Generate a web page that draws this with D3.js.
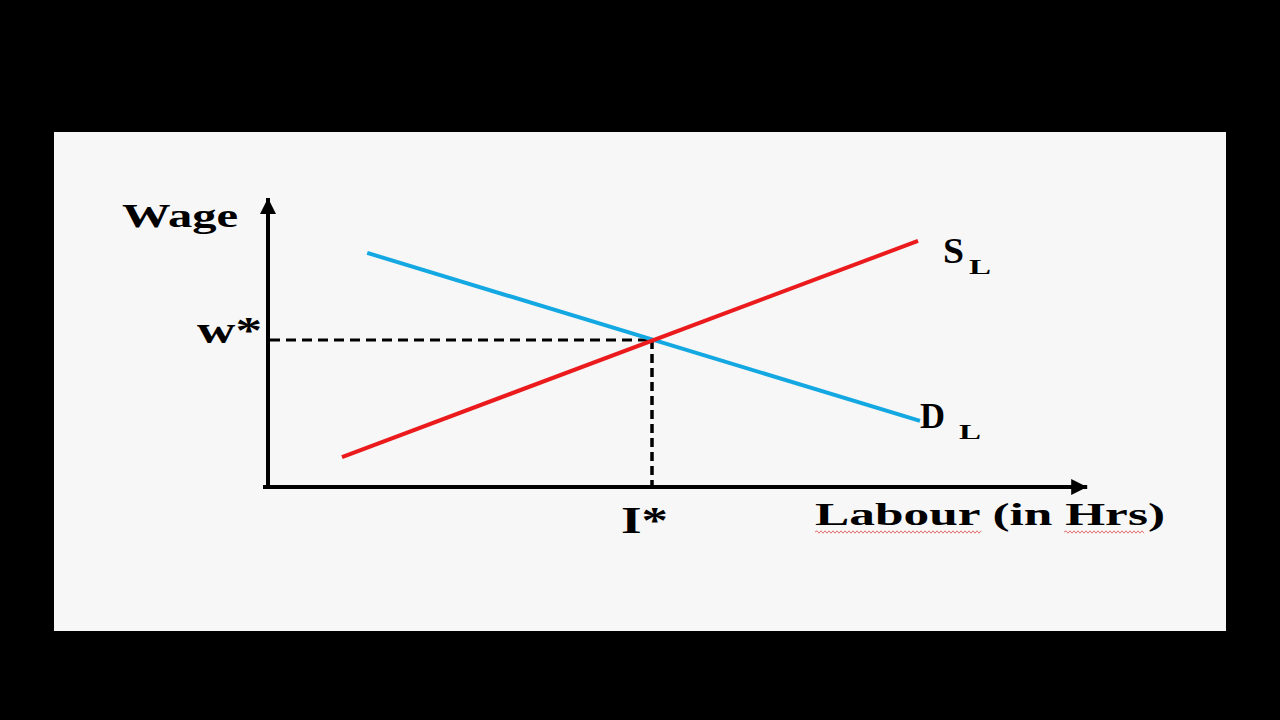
<!DOCTYPE html>
<html>
<head>
<meta charset="utf-8">
<script src="https://cdn.jsdelivr.net/npm/d3@7.9.0/dist/d3.min.js"></script>
<style>
  html, body { margin: 0; padding: 0; background: #000; }
  svg { display: block; }
  text { font-family: "Liberation Serif", "Times New Roman", serif; font-weight: bold; fill: #000; }
</style>
</head>
<body>
<svg id="chart" width="1280" height="720"></svg>
<script>
// curve end points (labour, wage) in chart units
const supplyCurve = [[9.25, 10.7], [81.25, 87.9]];
const demandCurve = [[12.4, 83.6], [81.5, 23.6]];
const equilibrium = { labour: 48, wage: 52.5 };
const axisLabels = { x: "Labour (in Hrs)", y: "Wage", wStar: "w*", lStar: "I*" };
const curveLabels = [
  { main: "S", sub: "L", at: [81.25, 87.9] },
  { main: "D", sub: "L", at: [81.5, 23.6] }
];

const svg = d3.select('#chart');

// slide panel
svg.append('rect')
  .attr('x', 54).attr('y', 132)
  .attr('width', 1172).attr('height', 499)
  .attr('fill', '#f7f7f7');

const x = d3.scaleLinear().domain([0, 100]).range([268, 1068]);
const y = d3.scaleLinear().domain([0, 100]).range([487, 207]);

const defs = svg.append('defs');
defs.append('marker')
  .attr('id', 'arrow')
  .attr('viewBox', '0 0 10 10')
  .attr('refX', 10).attr('refY', 5)
  .attr('markerWidth', 5).attr('markerHeight', 4)
  .attr('markerUnits', 'strokeWidth')
  .attr('orient', 'auto')
  .append('path')
  .attr('d', 'M0,0 L10,5 L0,10 Z')
  .attr('fill', '#000');

// axes
svg.append('line')
  .attr('x1', x(0)).attr('y1', y(0) + 2)
  .attr('x2', x(0)).attr('y2', y(103.2))
  .attr('stroke', '#000').attr('stroke-width', 4)
  .attr('marker-end', 'url(#arrow)');

svg.append('line')
  .attr('x1', x(0) - 5).attr('y1', y(0))
  .attr('x2', x(102.4)).attr('y2', y(0))
  .attr('stroke', '#000').attr('stroke-width', 4)
  .attr('marker-end', 'url(#arrow)');

// equilibrium guides
svg.append('line')
  .attr('x1', x(0) + 2).attr('y1', y(equilibrium.wage))
  .attr('x2', x(equilibrium.labour)).attr('y2', y(equilibrium.wage))
  .attr('stroke', '#000').attr('stroke-width', 3)
  .attr('stroke-dasharray', '10,6');

svg.append('line')
  .attr('x1', x(equilibrium.labour)).attr('y1', y(equilibrium.wage))
  .attr('x2', x(equilibrium.labour)).attr('y2', y(0))
  .attr('stroke', '#000').attr('stroke-width', 3.5)
  .attr('stroke-dasharray', '9,5');

// curves
const line = d3.line().x(d => x(d[0])).y(d => y(d[1]));

svg.append('path')
  .datum(demandCurve)
  .attr('d', line)
  .attr('fill', 'none')
  .attr('stroke', '#14a8e2')
  .attr('stroke-width', 4);

svg.append('path')
  .datum(supplyCurve)
  .attr('d', line)
  .attr('fill', 'none')
  .attr('stroke', '#ea1a1d')
  .attr('stroke-width', 4);

// axis labels (slide is stretched horizontally, so widths are fixed)
svg.append('text')
  .attr('x', 122).attr('y', 227)
  .attr('font-size', 34)
  .attr('textLength', 116).attr('lengthAdjust', 'spacingAndGlyphs')
  .text(axisLabels.y);

svg.append('text')
  .attr('x', 197).attr('y', 343)
  .attr('font-size', 37)
  .attr('textLength', 65).attr('lengthAdjust', 'spacingAndGlyphs')
  .text(axisLabels.wStar);

svg.append('text')
  .attr('x', 621).attr('y', 533)
  .attr('font-size', 37)
  .attr('textLength', 47).attr('lengthAdjust', 'spacingAndGlyphs')
  .text(axisLabels.lStar);

svg.append('text')
  .attr('x', 815).attr('y', 525)
  .attr('font-size', 32)
  .attr('textLength', 350).attr('lengthAdjust', 'spacingAndGlyphs')
  .text(axisLabels.x);

// spell-check squiggles under "Labour" and "Hrs"
function squiggle(x0, x1, yy) {
  let d = `M${x0},${yy}`;
  for (let xx = x0, up = true; xx < x1; xx += 2, up = !up) {
    d += ` L${xx + 2},${yy + (up ? -1.2 : 1.2)}`;
  }
  return d;
}
[[815, 980], [1064, 1143]].forEach(([a, b]) => {
  svg.append('path')
    .attr('d', squiggle(a, b, 532))
    .attr('fill', 'none')
    .attr('stroke', '#e06060')
    .attr('stroke-width', 0.9);
});

// curve labels
const offsets = { S: [25, 22], D: [0, 7] };
curveLabels.forEach(c => {
  const [dx, dy] = offsets[c.main];
  const x0 = x(c.at[0]) + dx, y0 = y(c.at[1]) + dy;
  svg.append('text')
    .attr('x', x0).attr('y', y0)
    .attr('font-size', 36)
    .attr('textLength', c.main === 'S' ? 21 : 25).attr('lengthAdjust', 'spacingAndGlyphs')
    .text(c.main);
  svg.append('text')
    .attr('x', x0 + (c.main === 'S' ? 26 : 39)).attr('y', y0 + 11)
    .attr('font-size', 20)
    .attr('textLength', 22).attr('lengthAdjust', 'spacingAndGlyphs')
    .text(c.sub);
});
</script>
</body>
</html>
